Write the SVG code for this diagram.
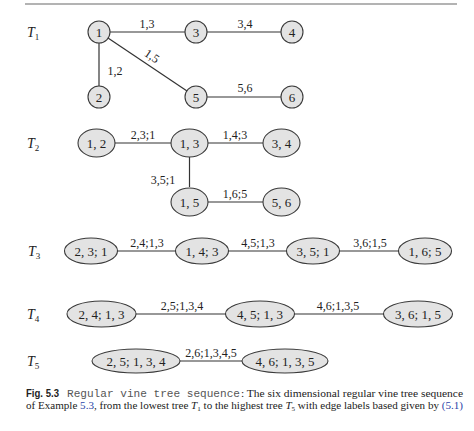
<svg xmlns="http://www.w3.org/2000/svg" width="474" height="431" viewBox="0 0 474 431">
<style>
.n{fill:#e3e3e3;stroke:#3a3a3a;stroke-width:1.1}
.e{stroke:#333;stroke-width:1.2;fill:none}
.nt{font-family:"Liberation Serif",serif;font-size:13px;fill:#222;text-anchor:middle}
.et{font-family:"Liberation Serif",serif;font-size:12px;fill:#222;text-anchor:middle}
.tl{font-family:"Liberation Serif",serif;font-size:14px;fill:#222;font-style:italic}
.tl tspan{font-style:normal;font-size:9px}
.cap{font-family:"Liberation Serif",serif;font-size:11px;fill:#222}
.blue{fill:#2b45a8}
</style>
<rect width="474" height="431" fill="#fff"/>
<line x1="25" y1="4" x2="457" y2="4" stroke="#9a9a9a" stroke-width="1.6"/>

<g id="labels">
<text class="tl" x="27" y="37">T<tspan dy="3">1</tspan></text>
<text class="tl" x="27" y="148">T<tspan dy="3">2</tspan></text>
<text class="tl" x="28" y="256">T<tspan dy="3">3</tspan></text>
<text class="tl" x="27" y="319">T<tspan dy="3">4</tspan></text>
<text class="tl" x="27" y="366">T<tspan dy="3">5</tspan></text>
</g>

<g id="connectors">
<line class="e" x1="110" y1="32" x2="185" y2="32"/>
<line class="e" x1="207" y1="32" x2="281" y2="32"/>
<line class="e" x1="99" y1="43" x2="99" y2="86"/>
<line class="e" x1="108" y1="38" x2="187" y2="91"/>
<line class="e" x1="207" y1="97" x2="281" y2="97"/>
<text class="et" x="147" y="28">1,3</text>
<text class="et" x="245" y="28">3,4</text>
<text class="et" x="115" y="75">1,2</text>
<text class="et" x="152" y="60" transform="rotate(33.8 152 56)">1,5</text>
<text class="et" x="245" y="92">5,6</text>
<line class="e" x1="115" y1="143" x2="171" y2="143"/>
<line class="e" x1="208" y1="143" x2="263" y2="143"/>
<line class="e" x1="189.5" y1="157" x2="189.5" y2="187"/>
<line class="e" x1="208" y1="202" x2="263" y2="202"/>
<text class="et" x="143" y="139">2,3;1</text>
<text class="et" x="235" y="139">1,4;3</text>
<text class="et" x="163" y="184">3,5;1</text>
<text class="et" x="235" y="198">1,6;5</text>
<line class="e" x1="117" y1="251" x2="176" y2="251"/>
<line class="e" x1="228" y1="251" x2="287" y2="251"/>
<line class="e" x1="339" y1="251" x2="399" y2="251"/>
<text class="et" x="147" y="247">2,4;1,3</text>
<text class="et" x="258" y="247">4,5;1,3</text>
<text class="et" x="370" y="247">3,6;1,5</text>
<line class="e" x1="136" y1="314" x2="226" y2="314"/>
<line class="e" x1="294" y1="314" x2="384" y2="314"/>
<text class="et" x="182" y="310">2,5;1,3,4</text>
<text class="et" x="338" y="310">4,6;1,3,5</text>
<line class="e" x1="180" y1="361" x2="242" y2="361"/>
<text class="et" x="211" y="357">2,6;1,3,4,5</text>
</g>

<g id="n1"><circle class="n" cx="99" cy="32" r="11"/><text class="nt" x="99" y="36.5">1</text></g>
<g id="n3"><circle class="n" cx="196" cy="32" r="11"/><text class="nt" x="196" y="36.5">3</text></g>
<g id="n4"><circle class="n" cx="292" cy="32" r="11"/><text class="nt" x="292" y="36.5">4</text></g>
<g id="n2"><circle class="n" cx="99" cy="97" r="11"/><text class="nt" x="99" y="101.5">2</text></g>
<g id="n5"><circle class="n" cx="196" cy="97" r="11"/><text class="nt" x="196" y="101.5">5</text></g>
<g id="n6"><circle class="n" cx="292" cy="97" r="11"/><text class="nt" x="292" y="101.5">6</text></g>

<g id="n12"><ellipse class="n" cx="96.5" cy="143" rx="18.5" ry="14"/><text class="nt" x="96.5" y="147.5">1, 2</text></g>
<g id="n13"><ellipse class="n" cx="189.5" cy="143" rx="18.5" ry="14"/><text class="nt" x="189.5" y="147.5">1, 3</text></g>
<g id="n34"><ellipse class="n" cx="281.5" cy="143" rx="18.5" ry="14"/><text class="nt" x="281.5" y="147.5">3, 4</text></g>
<g id="n15"><ellipse class="n" cx="189.5" cy="202" rx="18.5" ry="14"/><text class="nt" x="189.5" y="206.5">1, 5</text></g>
<g id="n56"><ellipse class="n" cx="281.5" cy="202" rx="18.5" ry="14"/><text class="nt" x="281.5" y="206.5">5, 6</text></g>

<g id="n231"><ellipse class="n" cx="91" cy="251" rx="26.5" ry="13"/><text class="nt" x="91" y="255.5">2, 3; 1</text></g>
<g id="n143"><ellipse class="n" cx="202" cy="251" rx="26.5" ry="13"/><text class="nt" x="202" y="255.5">1, 4; 3</text></g>
<g id="n351"><ellipse class="n" cx="313" cy="251" rx="26.5" ry="13"/><text class="nt" x="313" y="255.5">3, 5; 1</text></g>
<g id="n165"><ellipse class="n" cx="425" cy="251" rx="26.5" ry="13"/><text class="nt" x="425" y="255.5">1, 6; 5</text></g>

<g id="n2413"><ellipse class="n" cx="101.5" cy="314" rx="34.5" ry="13"/><text class="nt" x="101.5" y="318.5">2, 4; 1, 3</text></g>
<g id="n4513"><ellipse class="n" cx="260" cy="314" rx="34.5" ry="13"/><text class="nt" x="260" y="318.5">4, 5; 1, 3</text></g>
<g id="n3615"><ellipse class="n" cx="418" cy="314" rx="34.5" ry="13"/><text class="nt" x="418" y="318.5">3, 6; 1, 5</text></g>

<g id="n25134"><ellipse class="n" cx="136" cy="361" rx="44" ry="12"/><text class="nt" x="136" y="365.5">2, 5; 1, 3, 4</text></g>
<g id="n46135"><ellipse class="n" cx="285" cy="361" rx="43" ry="12"/><text class="nt" x="285" y="365.5">4, 6; 1, 3, 5</text></g>

<g id="caption">
<text x="26" y="397" font-family="Liberation Sans,sans-serif" font-weight="bold" font-size="11" fill="#222" textLength="33" lengthAdjust="spacingAndGlyphs">Fig. 5.3</text>
<text x="67" y="397" font-family="Liberation Mono,monospace" font-size="11" fill="#555" textLength="173" lengthAdjust="spacingAndGlyphs">Regular vine tree sequence</text>
<text class="cap" x="241" y="397" textLength="222" lengthAdjust="spacingAndGlyphs">: The six dimensional regular vine tree sequence</text>
<text class="cap" x="26" y="409" textLength="437" lengthAdjust="spacingAndGlyphs">of Example <tspan class="blue">5.3</tspan>, from the lowest tree <tspan font-style="italic">T</tspan><tspan font-size="7" dy="2">1</tspan><tspan dy="-2"> to the highest tree </tspan><tspan font-style="italic">T</tspan><tspan font-size="7" dy="2">5</tspan><tspan dy="-2"> with edge labels based given by </tspan><tspan class="blue">(5.1)</tspan></text>
</g>
</svg>
